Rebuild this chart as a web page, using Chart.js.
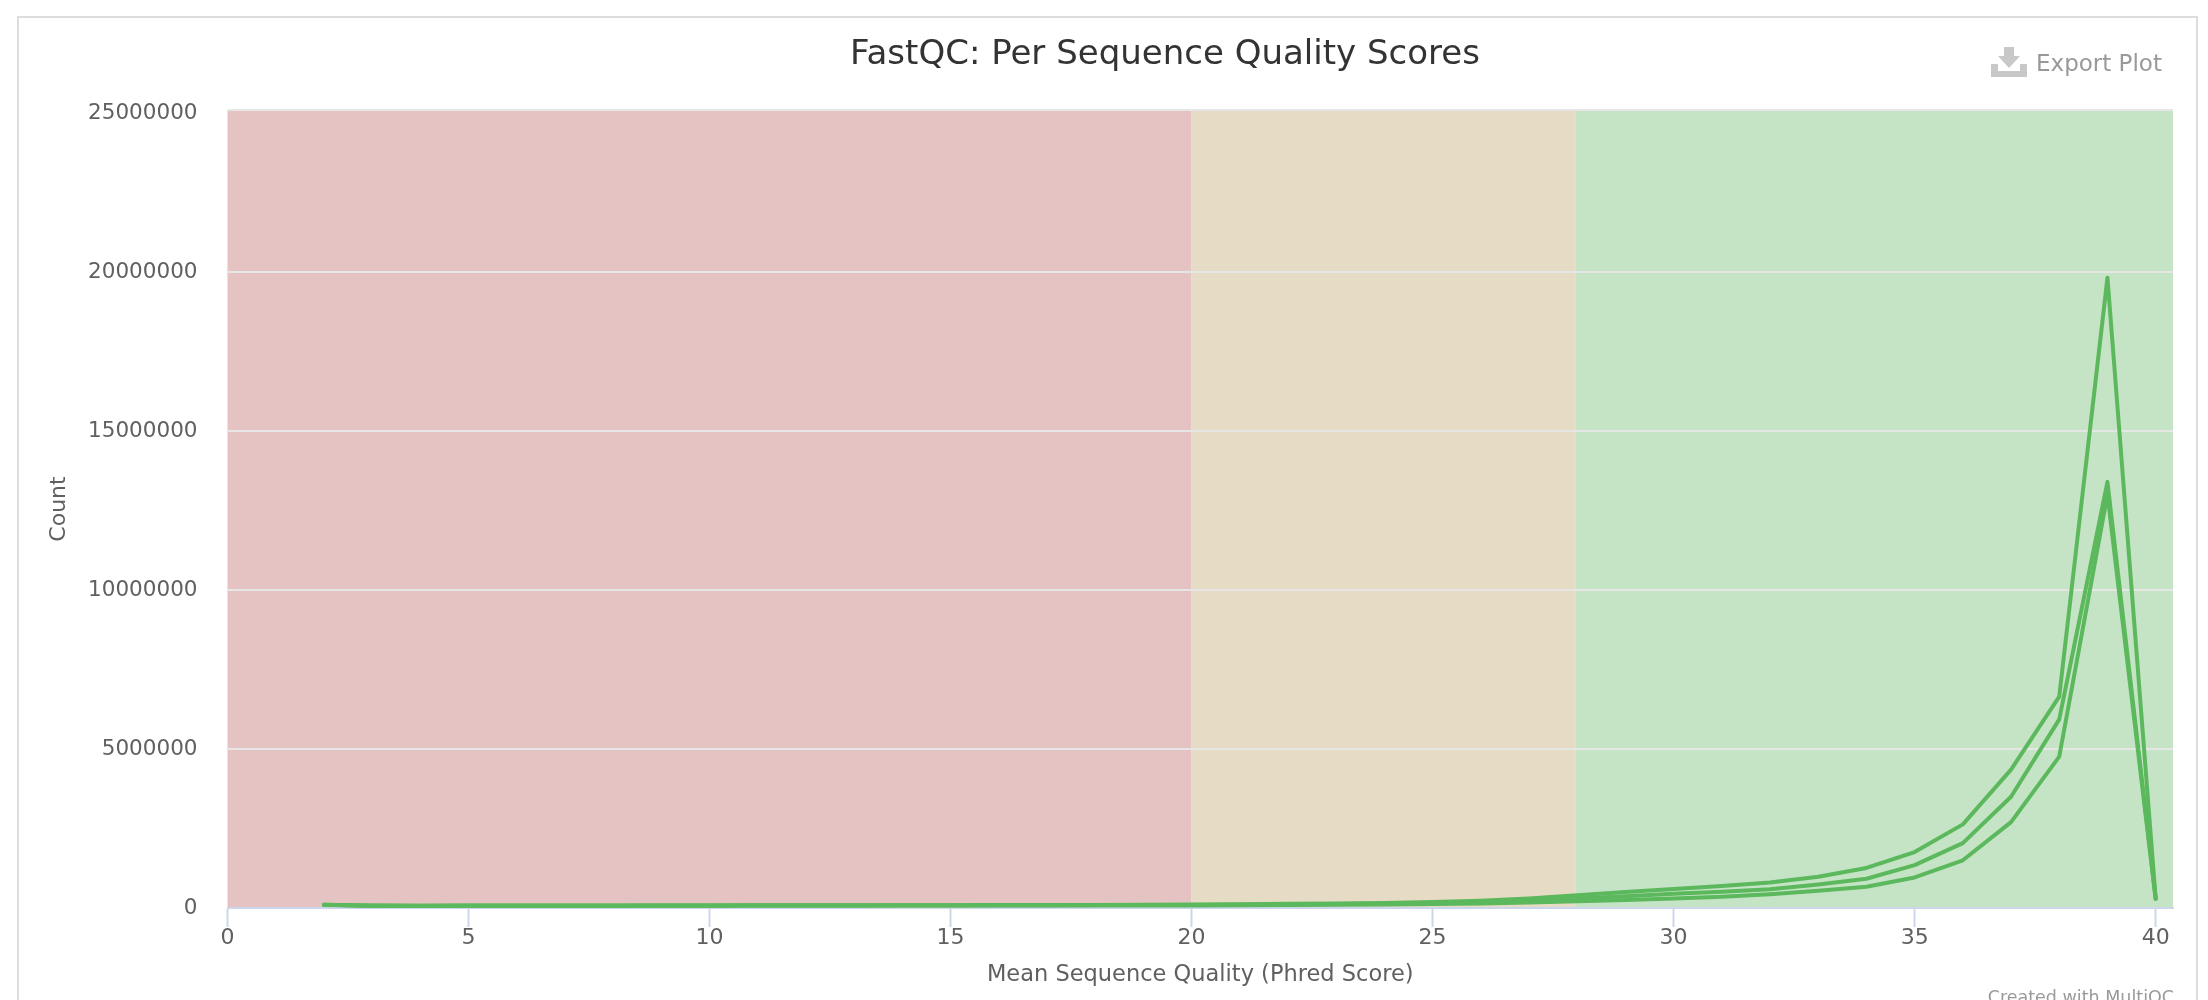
<!DOCTYPE html>
<html>
<head>
<meta charset="utf-8">
<title>FastQC: Per Sequence Quality Scores</title>
<script src="https://cdn.jsdelivr.net/npm/chart.js@4"></script>
<style>
    html, body { margin: 0; padding: 0; background: #fff; overflow: hidden; }
    #page { position: relative; width: 2208px; height: 1000px; overflow: hidden; font-family: "DejaVu Sans", sans-serif; }
    #card { position: absolute; left: 17px; top: 16px; width: 2177px; height: 1100px; border: 2px solid #dddddd; }
    #chart { position: absolute; left: 0; top: 0; }
    #heading { position: absolute; left: 665px; width: 1000px; top: 30px; text-align: center; color: #333333; font-size: 34px; line-height: 44px; }
    #export { position: absolute; left: 1990px; top: 46px; height: 34px; color: #999999; font-size: 23px; line-height: 34px; }
    #export svg { position: absolute; left: 1px; top: 0; }
    #export span { margin-left: 46px; }
    #credit { position: absolute; right: 34px; top: 987px; color: #999999; font-size: 17.5px; }
</style>
</head>
<body>
<div id="page">
    <div id="card"></div>
    <canvas id="chart" width="2208" height="1000"></canvas>
    <div id="heading">FastQC: Per Sequence Quality Scores</div>
    <div id="export">
        <svg width="36" height="32" viewBox="0 0 36 32" style="filter: blur(0.6px)"><path fill="#c8c8c8" d="M0 18h7v7h22v-7h7v13H0zM13 1h10v9h6L18 22 7 10h6z"/></svg>
        <span>Export Plot</span>
    </div>
    <div id="credit">Created with MultiQC</div>
</div>
<script>
const qualities = [2, 3, 4, 5, 6, 7, 8, 9, 10, 11, 12, 13, 14, 15, 16, 17, 18, 19, 20, 21, 22, 23, 24, 25, 26, 27, 28, 29, 30, 31, 32, 33, 34, 35, 36, 37, 38, 39, 40];
const countsHigh = [105000, 78000, 72000, 76000, 78000, 76000, 78000, 80000, 82000, 84000, 85000, 86000, 88000, 90000, 92000, 95000, 98000, 102000, 108000, 118000, 130000, 145000, 160000, 185000, 230000, 300000, 400000, 500000, 600000, 690000, 800000, 980000, 1260000, 1760000, 2630000, 4350000, 6650000, 19820000, 300000];
const countsMid = [100000, 74000, 68000, 72000, 74000, 72000, 74000, 76000, 78000, 80000, 80000, 82000, 84000, 85000, 87000, 89000, 92000, 95000, 98000, 105000, 112000, 122000, 135000, 150000, 180000, 235000, 300000, 370000, 450000, 510000, 590000, 740000, 920000, 1350000, 2040000, 3500000, 5930000, 13400000, 300000];
const countsLow = [95000, 70000, 64000, 68000, 70000, 68000, 70000, 72000, 74000, 75000, 75000, 76000, 77000, 78000, 79000, 80000, 80000, 80000, 80000, 85000, 92000, 100000, 110000, 125000, 145000, 175000, 210000, 255000, 300000, 350000, 430000, 540000, 670000, 960000, 1500000, 2700000, 4760000, 13000000, 280000];
const xTicks = [0, 5, 10, 15, 20, 25, 30, 35, 40];
const yTicks = [0, 5000000, 10000000, 15000000, 20000000, 25000000];
const xMax = 40.36;
const yMax = 25094000;
const bandEdges = [0, 20, 27.96, xMax];
const bandColors = ['#e6c3c3', '#e6dbc4', '#c5e4c5'];

const FONT = '"DejaVu Sans", sans-serif';

// coloured quality zones behind the grid
const qualityBands = {
    id: 'qualityBands',
    beforeDraw(chart) {
        const { ctx, chartArea, scales } = chart;
        ctx.save();
        for (let i = 0; i < bandColors.length; i++) {
            const left = scales.x.getPixelForValue(bandEdges[i]);
            const right = scales.x.getPixelForValue(bandEdges[i + 1]);
            ctx.fillStyle = bandColors[i];
            ctx.fillRect(left, chartArea.top, right - left, chartArea.bottom - chartArea.top);
        }
        ctx.restore();
    }
};

function toPoints(values) {
    return qualities.map((q, i) => ({ x: q, y: values[i] }));
}

function makeDataset(values) {
    return {
        data: toPoints(values),
        borderColor: '#5cb85c',
        borderWidth: 4,
        borderCapStyle: 'round',
        borderJoinStyle: 'round',
        pointRadius: 0,
        tension: 0,
        fill: false
    };
}

new Chart(document.getElementById('chart'), {
    type: 'line',
    data: { datasets: [makeDataset(countsLow), makeDataset(countsMid), makeDataset(countsHigh)] },
    options: {
        responsive: false,
        animation: false,
        layout: { padding: { left: 46, right: 35, top: 110, bottom: 11 } },
        plugins: {
            legend: { display: false },
            tooltip: { enabled: false }
        },
        scales: {
            x: {
                type: 'linear',
                min: 0,
                max: xMax,
                afterBuildTicks(scale) { scale.ticks = xTicks.map(v => ({ value: v })); },
                grid: { drawOnChartArea: false, tickLength: 19, tickColor: '#ccd6eb', tickWidth: 2 },
                border: { color: '#ccd6eb', width: 2 },
                ticks: { color: '#606060', font: { family: FONT, size: 22 }, padding: -2, maxRotation: 0, autoSkip: false },
                title: { display: true, text: 'Mean Sequence Quality (Phred Score)', color: '#606060', font: { family: FONT, size: 22.5 }, padding: { top: 0, bottom: 0 } },
                afterFit(scale) { scale.height = 81; }
            },
            y: {
                min: 0,
                max: yMax,
                // the top edge of the plot carries the upper grid line, the 25M label sits just under it
                afterBuildTicks(scale) { scale.ticks = yTicks.concat([yMax]).map(v => ({ value: v })); },
                grid: {
                    color: ctx => (ctx.tick && ctx.tick.value === 25000000 ? 'rgba(0,0,0,0)' : '#e6e6e6'),
                    lineWidth: 2,
                    drawTicks: false
                },
                border: { display: false },
                ticks: {
                    color: '#606060',
                    font: { family: FONT, size: 21.5 },
                    padding: 30,
                    autoSkip: false,
                    callback: v => (v === yMax ? '' : String(v))
                },
                title: { display: true, text: 'Count', color: '#606060', font: { family: FONT, size: 22 }, padding: 0 },
                afterFit(scale) { scale.width = 181.5; }
            }
        }
    },
    plugins: [qualityBands]
});
</script>
</body>
</html>
